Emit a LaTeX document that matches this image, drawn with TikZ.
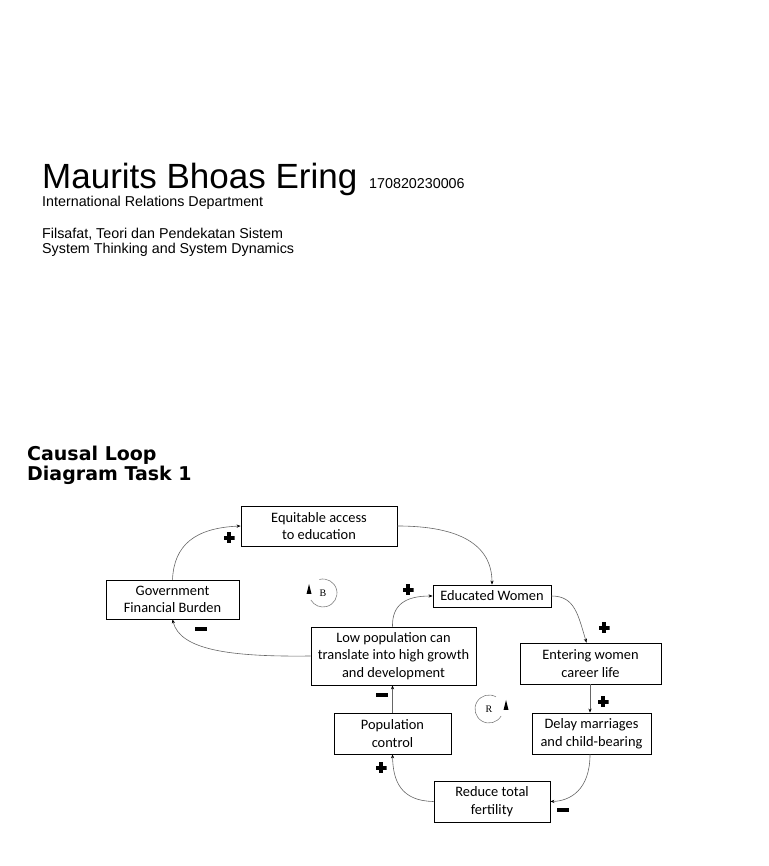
\documentclass[tikz,border=0pt]{standalone}
\usepackage{fontspec}
\setmainfont{Liberation Sans}
\newfontfamily\boxfont{Carlito}
\newfontfamily\headfont{DejaVu Sans}
\newfontfamily\loopfont{Liberation Serif}
\usetikzlibrary{arrows.meta}
\begin{document}
\begin{tikzpicture}[x=1pt,y=1pt,
  cbox/.style={draw, line width=0.8pt, fill=white, inner sep=0pt, align=center,
    font=\boxfont\fontsize{14.4}{17.5}\selectfont},
  link/.style={draw=black!60, line width=0.6pt, -{Stealth[length=4pt,width=3.2pt,black]}},
  plusmark/.style={minimum size=11pt, inner sep=0pt, path picture={
    \fill ([xshift=-5.5pt,yshift=-1.8pt]path picture bounding box.center) rectangle ++(11pt,3.6pt);
    \fill ([xshift=-1.8pt,yshift=-5.5pt]path picture bounding box.center) rectangle ++(3.6pt,11pt);}},
  minusmark/.style={minimum width=12pt, minimum height=4pt, inner sep=0pt, fill=black},
  loopmark/.style={draw=black!50, line width=0.6pt},
  looptip/.style={fill=black},
  looplabel/.style={font=\loopfont\fontsize{10}{12}\selectfont}
]
\useasboundingbox (0,0) rectangle (768,866);

% header
\node[anchor=base west, inner sep=0pt, font=\fontsize{35}{40}\selectfont] (name) at (42,677.5) {Maurits Bhoas Ering};
\node[anchor=base west, inner sep=0pt, font=\fontsize{14.3}{16}\selectfont] (nim) at (369,677.5) {170820230006};
\node[anchor=base west, inner sep=0pt, font=\fontsize{14.3}{16}\selectfont] (dept) at (42,659) {International Relations Department};
\node[anchor=base west, inner sep=0pt, font=\fontsize{14.3}{16}\selectfont] (course1) at (42,627) {Filsafat, Teori dan Pendekatan Sistem};
\node[anchor=base west, inner sep=0pt, font=\fontsize{14.3}{16}\selectfont] (course2) at (42,612) {System Thinking and System Dynamics};

\node[anchor=base west, inner sep=0pt, font=\headfont\bfseries\fontsize{19}{20}\selectfont] (title1) at (27,405) {Causal Loop};
\node[anchor=base west, inner sep=0pt, font=\headfont\bfseries\fontsize{19}{20}\selectfont] (title2) at (27,385) {Diagram Task 1};

% boxes
\node[cbox, minimum width=156pt, minimum height=40pt] (eq) at (319,340) {Equitable access\\to education};
\node[cbox, minimum width=133pt, minimum height=39pt] (gov) at (172.5,266.5) {Government\\Financial Burden};
\node[cbox, minimum width=118pt, minimum height=22pt] (edu) at (492,270) {Educated Women};
\node[cbox, minimum width=165pt, minimum height=58pt] (low) at (393.5,210) {Low population can\\translate into high growth\\and development};
\node[cbox, minimum width=141pt, minimum height=41pt] (ent) at (590.5,202.5) {Entering women\\career life};
\node[cbox, minimum width=117pt, minimum height=41pt] (pop) at (392.5,132.5) {Population\\control};
\node[cbox, minimum width=119pt, minimum height=41pt] (del) at (591.5,132.5) {Delay marriages\\and child-bearing};
\node[cbox, minimum width=116pt, minimum height=41pt] (red) at (492,64.5) {Reduce total\\fertility};

% connectors
\draw[link] (gov.north) .. controls (174,321) and (195,338) .. (eq.west);
\draw[link] (eq.east) .. controls (460,340) and (492,321) .. (edu.north);
\draw[link] (edu.east) .. controls (575,270) and (578,251) .. ([xshift=-4pt]ent.north);
\draw[link] ([xshift=-0.5pt]ent.south) -- ([xshift=-1.5pt]del.north);
\draw[link] ([xshift=-1.5pt]del.south) .. controls (590,76) and (570,65) .. (red.east);
\draw[link] (red.west) .. controls (400,65) and (393,86) .. (pop.south);
\draw[link] (pop.north) -- ([xshift=-1pt]low.south);
\draw[link] ([xshift=-1pt]low.north) .. controls (392,261) and (405,270) .. (edu.west);
\draw[link] (low.west) .. controls (230,209) and (180,216) .. (gov.south);

% polarity marks
\node[plusmark] (s1) at (229,328) {};
\node[minusmark] (s2) at (201,237) {};
\node[plusmark] (s3) at (408,276) {};
\node[minusmark] (s4) at (382,171) {};
\node[plusmark] (s5) at (604,238) {};
\node[plusmark] (s6) at (603,164) {};
\node[plusmark] (s7) at (381,98) {};
\node[minusmark] (s8) at (563,56) {};

% loop markers
\node[looplabel] (B) at (323,273) {B};
\draw[loopmark] (B.center) ++(105:14) arc[start angle=105, end angle=-150, radius=14];
\fill[looptip] ([xshift=-16.5pt,yshift=-1pt]B.center) -- ([xshift=-11.5pt,yshift=-1pt]B.center) -- ([xshift=-14pt,yshift=9pt]B.center) -- cycle;
\node[looplabel] (R) at (489,157) {R};
\draw[loopmark] (R.center) ++(60:14) arc[start angle=60, end angle=330, radius=14];
\fill[looptip] ([xshift=14.5pt,yshift=-1pt]R.center) -- ([xshift=19.5pt,yshift=-1pt]R.center) -- ([xshift=17pt,yshift=9pt]R.center) -- cycle;
\end{tikzpicture}
\end{document}
